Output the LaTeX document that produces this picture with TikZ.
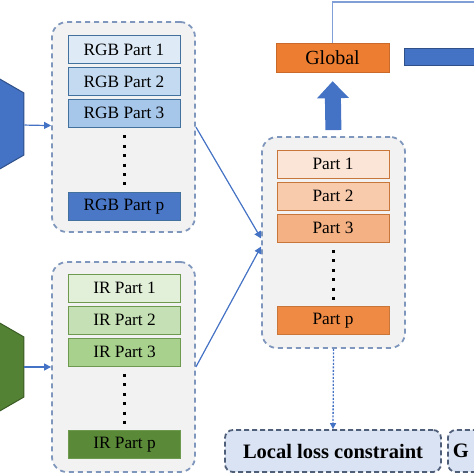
\documentclass[tikz,border=0pt]{standalone}
\usepackage{fontspec}
\setmainfont{Liberation Serif}
\usetikzlibrary{arrows.meta,positioning,shapes.geometric}

\definecolor{rgbone}{HTML}{DEEBF7}
\definecolor{rgbtwo}{HTML}{C4DAF1}
\definecolor{rgbthree}{HTML}{A6C6EA}
\definecolor{rgbp}{HTML}{4A78C7}
\definecolor{rgbline}{HTML}{41719C}
\definecolor{irone}{HTML}{E2F0D9}
\definecolor{irtwo}{HTML}{C5E0B4}
\definecolor{irthree}{HTML}{A9D18E}
\definecolor{irp}{HTML}{5A8A38}
\definecolor{irline}{HTML}{6E9A50}
\definecolor{pone}{HTML}{FBE5D6}
\definecolor{ptwo}{HTML}{F8CBAD}
\definecolor{pthree}{HTML}{F4B183}
\definecolor{pp}{HTML}{EF8A45}
\definecolor{pline}{HTML}{C9763A}
\definecolor{globalc}{HTML}{ED7D31}
\definecolor{hexblue}{HTML}{4472C4}
\definecolor{hexgreen}{HTML}{548235}
\definecolor{boxline}{HTML}{7F96BD}
\definecolor{lossfill}{HTML}{DAE3F3}
\definecolor{lossline}{HTML}{4F5F7A}
\definecolor{linkc}{HTML}{4472C4}
\definecolor{globline}{HTML}{7F9FD6}

\begin{document}
\begin{tikzpicture}[x=1pt,y=1pt,
    part/.style={draw,minimum width=112pt,minimum height=28pt,inner sep=0pt,font=\fontsize{17.3}{19}\selectfont},
    group/.style={draw=boxline,fill=black!5,dash pattern=on 5pt off 4pt,line width=1.8pt,rounded corners=15pt,minimum width=143pt,minimum height=210pt},
    vdots/.style={line width=3pt,dash pattern=on 3pt off 6.4pt,shorten <=8pt,shorten >=6pt},
    link/.style={draw=linkc,line width=1.2pt,-{Triangle[length=7pt,width=7pt]}},
    hex/.style={regular polygon,regular polygon sides=6,shape border rotate=30,inner sep=0pt,line width=1pt},
    loss/.style={draw=lossline,fill=lossfill,dash pattern=on 5pt off 3pt,line width=1.8pt,rounded corners=8pt,minimum height=42pt,font=\bfseries\fontsize{20.5}{24}\selectfont}]
      \useasboundingbox (0,0) rectangle (474,474);
      \clip (0,0) rectangle (474,474);

      % backbones
      \node[hex,fill=hexblue,draw=hexblue!70!black,minimum size=124pt] (hexrgb) at (-29.7,350) {};
      \node[hex,fill=hexgreen,draw=hexgreen!70!black,minimum size=120pt] (hexir) at (-28,107) {};

      % part groups
      \node[group] (rgbbox) at (123.5,347) {};
      \node[group] (irbox) at (123.5,107) {};
      \node[group,minimum height=211pt] (midbox) at (333.5,231.5) {};

      \node[part,fill=rgbone,draw=rgbline] (r1) at (124,424.5) {RGB Part 1};
      \node[part,fill=rgbtwo,draw=rgbline,below = 3.5pt of r1] (r2) {RGB Part 2};
      \node[part,fill=rgbthree,draw=rgbline,below = 3.5pt of r2] (r3) {RGB Part 3};
      \node[part,fill=rgbp,draw=rgbline,below = 65pt of r3] (rp) {RGB Part p};
      \draw[vdots] (r3.south) -- (rp.north);

      \node[part,fill=irone,draw=irline] (i1) at (124.5,186) {IR Part 1};
      \node[part,fill=irtwo,draw=irline,below = 3.5pt of i1] (i2) {IR Part 2};
      \node[part,fill=irthree,draw=irline,below = 3.5pt of i2] (i3) {IR Part 3};
      \node[part,fill=irp,draw=irline,below = 64.5pt of i3] (ip) {IR Part p};
      \draw[vdots] (i3.south) -- (ip.north);

      \node[part,fill=pone,draw=pline] (m1) at (333,310) {Part 1};
      \node[part,fill=ptwo,draw=pline,below = 3.5pt of m1] (m2) {Part 2};
      \node[part,fill=pthree,draw=pline,below = 3.5pt of m2] (m3) {Part 3};
      \node[part,fill=pp,draw=pline,below = 64.5pt of m3] (mp) {Part p};
      \draw[vdots] (m3.south) -- (mp.north);

      \draw[link] (hexrgb) -- (rgbbox);
      \draw[link] (hexir) -- (irbox);
      \draw[link] (rgbbox.east) -- ([yshift=4pt]midbox.west);
      \draw[link] (irbox.east) -- ([yshift=-4pt]midbox.west);

      % global branch
      \node[fill=globalc,draw=globalc!85!black,minimum width=113pt,minimum height=29pt,inner sep=0pt,font=\fontsize{20}{22}\selectfont] (glob) at (332.5,416.5) {Global};
      \draw[hexblue,line width=16pt,-{Triangle[length=17pt,width=31pt]},shorten <=6pt,shorten >=9pt] (midbox.north) -- (glob.south);
      \coordinate (edge) at (490,472);
      \draw[globline,line width=1.5pt] (glob.north) |- (edge);
      \node[fill=hexblue,draw=hexblue!70!black,anchor=west,minimum width=100pt,minimum height=17pt,inner sep=0pt] (bar) at (404,417.5) {};

      % losses
      \node[loss,minimum width=216pt] (local) at (333,23) {Local loss constraint};
      \node[loss,anchor=west,text width=100pt,inner xsep=5pt,align=left] (glbloss) at (447,23) {G};
      \draw[link,line width=1.3pt,dash pattern=on 2pt off 1.5pt,-{Triangle[length=6pt,width=6pt]}] (midbox.south) -- (local.north);
    \end{tikzpicture}
\end{document}
